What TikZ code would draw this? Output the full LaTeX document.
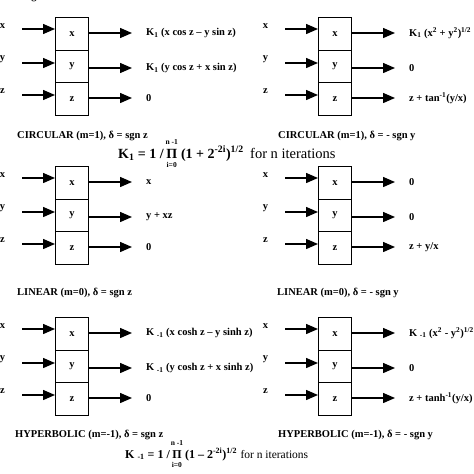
\documentclass[tikz,border=0pt]{standalone}
\usepackage{fontspec}
\setmainfont{Liberation Serif}
\usetikzlibrary{arrows.meta,calc}
\newcommand\smbf{\fontsize{10.5}{12}\selectfont\bfseries}
\newcommand\bigbf{\fontsize{14}{16}\selectfont\bfseries}
\newcommand\midbf{\fontsize{12}{14}\selectfont\bfseries}
\newcommand\limbf{\fontsize{7.5}{9}\selectfont\bfseries}
\newcommand\bigrmf{\fontsize{14.5}{16}\selectfont}
\newcommand\midrmf{\fontsize{11.5}{13}\selectfont}
% #1 name, #2 xshift, #3 top, #4 #5 #6 output labels
\newcommand\cpanel[6]{%
\begin{scope}[shift={(#2,#3)}]
 \node[cell] (#1x) at (55,0) {x};
 \node[cell] (#1y) at (55,32.5) {y};
 \node[cell] (#1z) at (55,65) {z};
 \node[lbl] (#1ix) at (2.5,9) {x};
 \node[lbl] (#1iy) at (2.5,42) {y};
 \node[lbl] (#1iz) at (2.5,74) {z};
 \coordinate (#1ax) at (22,12);
 \coordinate (#1ay) at (22,46);
 \coordinate (#1az) at (22,78);
 \draw[arr] (#1ax) -- (#1ax -| #1x.west);
 \draw[arr] (#1ay) -- (#1ay -| #1y.west);
 \draw[arr] (#1az) -- (#1az -| #1z.west);
 \coordinate (#1bx) at (132,16);
 \coordinate (#1by) at (132,51);
 \coordinate (#1bz) at (132,81);
 \draw[arr] (#1bx -| #1x.east) -- (#1bx);
 \draw[arr] (#1by -| #1y.east) -- (#1by);
 \draw[arr] (#1bz -| #1z.east) -- (#1bz);
 \node[olbl] (#1ox) at (146,16) {#4};
 \node[olbl] (#1oy) at (146,51) {#5};
 \node[olbl] (#1oz) at (146,81) {#6};
\end{scope}}
\begin{document}
\begin{tikzpicture}[x=1pt,y=-1pt,
  arr/.style={-{Triangle[length=12pt,width=10pt]}, line width=1.4pt},
  cell/.style={draw, line width=1.1pt, minimum width=33pt, minimum height=32.5pt, inner sep=0pt, font=\smbf, anchor=north west},
  lbl/.style={font=\smbf, inner sep=0pt},
  olbl/.style={font=\smbf, inner sep=0pt, anchor=west},
  captxt/.style={font=\smbf, inner sep=0pt, anchor=west},
  fbf/.style={font=\bigbf, inner sep=0pt, anchor=base west},
  gbf/.style={font=\midbf, inner sep=0pt, anchor=base west},
  lim/.style={font=\limbf, inner sep=0pt},
]
\useasboundingbox (0,0) rectangle (474,474);
\node[font=\smbf, inner sep=0pt, anchor=base] (gfrag) at (34,-0.5) {g};

\cpanel{A}{0}{17}{K\textsubscript{1} (x cos z – y sin z)}{K\textsubscript{1} (y cos z + x sin z)}{0}
\cpanel{B}{263}{17}{K\textsubscript{1} (x\textsuperscript{2} + y\textsuperscript{2})\textsuperscript{1/2}}{0}{z + tan\textsuperscript{-1}(y/x)}
\cpanel{C}{0}{166}{x}{y + xz}{0}
\cpanel{D}{263}{166}{0}{0}{z + y/x}
\cpanel{E}{0}{317}{K \textsubscript{-1} (x cosh z – y sinh z)}{K \textsubscript{-1} (y cosh z + x sinh z)}{0}
\cpanel{F}{263}{317}{K \textsubscript{-1} (x\textsuperscript{2} - y\textsuperscript{2})\textsuperscript{1/2}}{0}{z + tanh\textsuperscript{-1}(y/x)}

\node[captxt] (capA) at (17,136) {CIRCULAR (m=1), δ = sgn z};
\node[captxt] (capB) at (278,136) {CIRCULAR (m=1), δ = - sgn y};
\node[captxt] (capC) at (17,293) {LINEAR (m=0), δ = sgn z};
\node[captxt] (capD) at (277,293) {LINEAR (m=0), δ = - sgn y};
\node[captxt] (capE) at (15,435) {HYPERBOLIC (m=-1), δ = sgn z};
\node[captxt] (capF) at (278,435) {HYPERBOLIC (m=-1), δ = - sgn y};

% top formula
\node[fbf] (ka) at (118,158) {K\textsubscript{1} = 1 /};
\node[fbf] (kpi) at ([xshift=2pt]ka.base east) {Π};
\node[lim, anchor=south] (kn) at ([yshift=4pt]kpi.north) {n -1};
\node[lim, anchor=north] (ki) at ([yshift=-4pt]kpi.south) {i=0};
\node[fbf] (kb) at ([xshift=3.5pt]kpi.base east) {(1 + 2\textsuperscript{-2i})\textsuperscript{1/2}};
\node[font=\bigrmf, inner sep=0pt, anchor=base west] (kc) at (250,158) {for n iterations};

% bottom formula
\node[gbf] (ha) at (125,458) {K \textsubscript{-1} = 1 /};
\node[gbf] (hpi) at ([xshift=2pt]ha.base east) {Π};
\node[lim, anchor=south] (hn) at ([yshift=4pt]hpi.north) {n -1};
\node[lim, anchor=north] (hi) at ([yshift=-4pt]hpi.south) {i=0};
\node[gbf] (hb) at ([xshift=3pt]hpi.base east) {(1 – 2\textsuperscript{-2i})\textsuperscript{1/2}};
\node[font=\midrmf, inner sep=0pt, anchor=base west] (hc) at ([xshift=3pt]hb.base east) {for n iterations};
\end{tikzpicture}
\end{document}
